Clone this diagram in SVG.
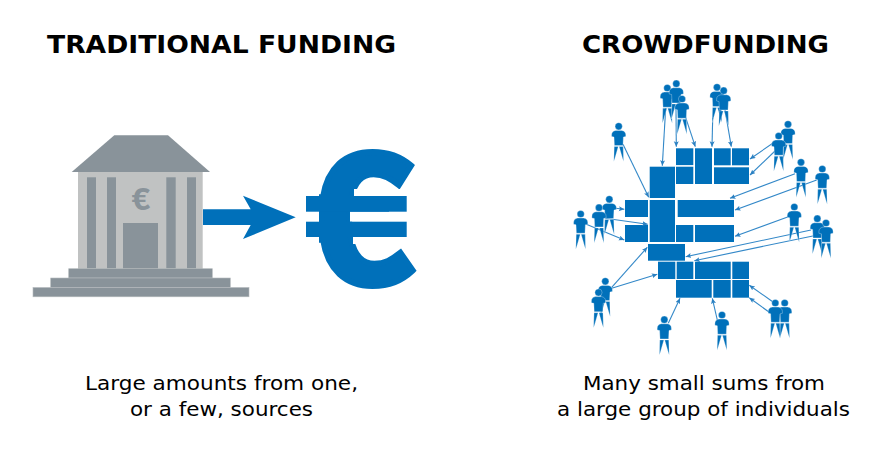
<svg xmlns="http://www.w3.org/2000/svg" width="879" height="449" viewBox="0 0 879 449">
<style>
.t{font-family:"DejaVu Sans",Verdana,sans-serif;fill:#000}
.h{font-size:24px;font-weight:700;text-anchor:middle}
.c{font-size:20px;text-anchor:middle}
.g{fill:#89939a}
.b{fill:#0070ba}
.s{fill:#89939a;stroke:#b4b9bc;stroke-width:.6}
.e{font-family:"Liberation Mono",monospace;font-weight:700}
.l{stroke:#3388c8;stroke-width:1.1;fill:none;marker-end:url(#a)}
.p{stroke:#fff;stroke-width:.3}
</style>
<defs>
<marker id="a" markerWidth="7" markerHeight="6" refX="5.5" refY="2.5" orient="auto" markerUnits="userSpaceOnUse"><path d="M0 0L5.5 2.5L0 5L1.2 2.5Z" fill="#2a80c2"/></marker>
<g id="person" class="b">
<circle cx="0" cy="0" r="3.6"/>
<path d="M-3 4.1H3Q7.1 5 7.1 8.5V10.3L4.7 10.8L4.3 19.2H-4.3L-4.7 10.8L-7.1 10.3V8.5Q-7.1 5 -3 4.1Z"/>
<path d="M-4.5 20.2H-.4L-3.8 32L-4.9 35.3ZM4.5 20.2H.4L3.8 32L4.9 35.3Z"/>
</g>
</defs>
<rect width="879" height="449" fill="#fff"/>
<text class="t h" x="221.5" y="53" textLength="349" lengthAdjust="spacingAndGlyphs">TRADITIONAL FUNDING</text>
<text class="t h" x="705.5" y="53" textLength="247" lengthAdjust="spacingAndGlyphs">CROWDFUNDING</text>
<text class="t c" x="221.5" y="390" textLength="273" lengthAdjust="spacingAndGlyphs">Large amounts from one,</text>
<text class="t c" x="221.5" y="416" textLength="183" lengthAdjust="spacingAndGlyphs">or a few, sources</text>
<text class="t c" x="704" y="390" textLength="242" lengthAdjust="spacingAndGlyphs">Many small sums from</text>
<text class="t c" x="703.5" y="416" textLength="293" lengthAdjust="spacingAndGlyphs">a large group of individuals</text>

<g id="bank">
<rect x="78" y="172" width="124.7" height="97" fill="#c0c2c2"/>
<path class="g" d="M114.3 135.3H168L210 172H71.7Z"/>
<rect class="g" x="87" y="177.3" width="9" height="91"/>
<rect class="g" x="107" y="177.3" width="9" height="91"/>
<rect class="g" x="166.3" y="177.3" width="9.4" height="91"/>
<rect class="g" x="187" y="177.3" width="9" height="91"/>
<rect class="g" x="123" y="223" width="35" height="45.5"/>
<text class="e" x="141" y="209.5" font-size="33" text-anchor="middle" fill="#89939a">€</text>
<rect class="s" x="68.7" y="268.7" width="143.6" height="9.3"/>
<rect class="s" x="50.7" y="278" width="179.6" height="9.5"/>
<rect class="s" x="33" y="287.5" width="216" height="9.3"/>
</g>
<g id="flow-arrow"><path class="b" d="M203 209.3H250.7L243 195.7L295.7 217.3L243 239L250.7 225H203Z"/></g>
<g id="euro">
<text class="e" transform="translate(302.6 283.7) scale(.97 1)" font-size="197.6" fill="#0070ba" stroke="#0070ba" stroke-width="6">€</text>
<rect x="296" y="189" width="23" height="58" fill="#fff"/>
<rect x="354" y="189" width="54" height="7" fill="#fff"/>
<rect x="350" y="211.7" width="58" height="10" fill="#fff"/>
<rect x="353" y="237" width="55" height="7" fill="#fff"/>
<rect x="306" y="196" width="100.7" height="15.7" fill="#0070ba"/>
<rect x="306" y="221.7" width="100.7" height="15.3" fill="#0070ba"/>
</g>

<g id="crowd-euro" class="b">
<rect x="649.7" y="166.7" width="25.3" height="31.3"/>
<rect x="676" y="148.3" width="17.3" height="16.8"/>
<rect x="695" y="148.3" width="17" height="35.7"/>
<rect x="714" y="148.3" width="16.7" height="17"/>
<rect x="732" y="148.3" width="17" height="17"/>
<rect x="676" y="166.7" width="17.3" height="17.3"/>
<rect x="714" y="167.3" width="35" height="16.7"/>
<rect x="625" y="200" width="23" height="17"/>
<rect x="649.7" y="200" width="25.3" height="42"/>
<rect x="677.7" y="200" width="56.3" height="17"/>
<rect x="625" y="225" width="23" height="17"/>
<rect x="676" y="225" width="17.3" height="17"/>
<rect x="695" y="225" width="39" height="17"/>
<rect x="648" y="244" width="37" height="16.7"/>
<rect x="658" y="261.7" width="17.3" height="17.3"/>
<rect x="676.7" y="261.7" width="16.6" height="17.3"/>
<rect x="695" y="261.7" width="35.7" height="17.3"/>
<rect x="732.3" y="261.7" width="16.7" height="17.3"/>
<rect x="676" y="280" width="35.7" height="17.7"/>
<rect x="713.3" y="280" width="17.4" height="17.7"/>
<rect x="732.3" y="280" width="16.7" height="17.7"/>
</g>

<g id="connectors">
<path class="l" d="M623 144.3L648.7 197.3"/>
<path class="l" d="M665.7 108L662.3 165.7"/>
<path class="l" d="M676 108L676.3 146.7"/>
<path class="l" d="M684.3 113.3L695.3 146.7"/>
<path class="l" d="M712.7 118L712 146.7"/>
<path class="l" d="M725 110L731.3 146.7"/>
<path class="l" d="M772.7 143.3L750 159"/>
<path class="l" d="M775 151L750 175"/>
<path class="l" d="M795 173.7L730 198.3"/>
<path class="l" d="M816.7 180L735 210"/>
<path class="l" d="M788.3 216.7L735 236.3"/>
<path class="l" d="M811 230L685.7 256.7"/>
<path class="l" d="M814 235.7L694.3 260.7"/>
<path class="l" d="M772.7 301.7L749.3 285.3"/>
<path class="l" d="M769.3 312.3L749.3 297.7"/>
<path class="l" d="M717.3 320L712.3 298.3"/>
<path class="l" d="M668.3 323.3L680 298.3"/>
<path class="l" d="M611.7 287.3L647.3 247.3"/>
<path class="l" d="M611.7 288.3L657.3 274.3"/>
<path class="l" d="M585.7 224L624.3 240"/>
<path class="l" d="M605 218.3L647.7 224.3"/>
<path class="l" d="M615.7 208.3L624.3 209.3"/>
</g>

<g id="person-1"><use href="#person" class="p" x="618.7" y="126.3"/></g>
<g id="person-2"><use href="#person" class="p" x="667.3" y="88"/></g>
<g id="person-3"><use href="#person" class="p" x="676.3" y="83.7"/></g>
<g id="person-4"><use href="#person" class="p" x="682" y="99"/></g>
<g id="person-5"><use href="#person" class="p" x="717" y="87.3"/></g>
<g id="person-6"><use href="#person" class="p" x="723.7" y="90.7"/></g>
<g id="person-7"><use href="#person" class="p" x="788" y="124.3"/></g>
<g id="person-8"><use href="#person" class="p" x="778.7" y="136"/></g>
<g id="person-9"><use href="#person" class="p" x="801" y="162.3"/></g>
<g id="person-10"><use href="#person" class="p" x="822.3" y="169"/></g>
<g id="person-11"><use href="#person" class="p" x="794.3" y="207"/></g>
<g id="person-12"><use href="#person" class="p" x="609.3" y="199.3"/></g>
<g id="person-13"><use href="#person" class="p" x="599" y="207.7"/></g>
<g id="person-14"><use href="#person" class="p" x="580.7" y="214"/></g>
<g id="person-15"><use href="#person" class="p" x="605.3" y="281.3"/></g>
<g id="person-16"><use href="#person" class="p" x="598.5" y="292.5"/></g>
<g id="person-17"><use href="#person" class="p" x="664.3" y="319.7"/></g>
<g id="person-18"><use href="#person" class="p" x="817.3" y="218.7"/></g>
<g id="person-19"><use href="#person" class="p" x="826" y="223"/></g>
<g id="person-20"><use href="#person" class="p" x="784.7" y="303"/></g>
<g id="person-21"><use href="#person" class="p" x="775.3" y="303"/></g>
<g id="person-22"><use href="#person" class="p" x="722" y="315"/></g>
</svg>
